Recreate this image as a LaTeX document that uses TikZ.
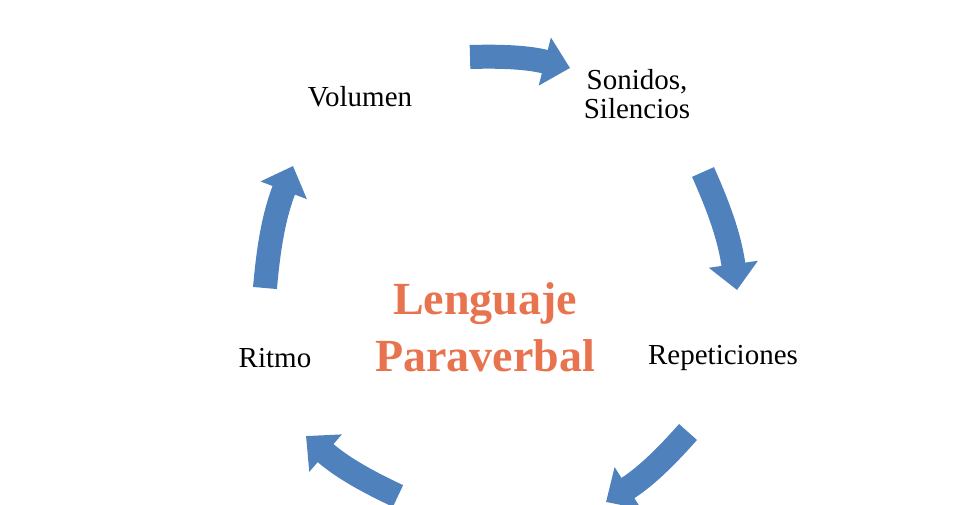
\documentclass[tikz,border=0pt]{standalone}
\usepackage{fontspec}
\setmainfont{Liberation Serif}
\usetikzlibrary{arrows.meta}
\definecolor{ablue}{HTML}{4F81BD}
\definecolor{aorange}{HTML}{E8734F}
\begin{document}
\begin{tikzpicture}[x=1pt,y=-1pt,
  lbl/.style={font=\fontsize{29}{29}\selectfont, align=center},
  cyc/.style={draw=ablue, line width=24pt, -{Triangle[width=48pt,length=26pt]}}]
\useasboundingbox (0,0) rectangle (960,504);
\node[lbl] (vol) at (360,97) {Volumen};
\node[lbl] (son) at (637,94) {Sonidos,\\Silencios};
\node[lbl] (rep) at (723,358) {Repeticiones};
\node[lbl] (rit) at (275,358) {Ritmo};
\node[font=\bfseries\fontsize{46}{57}\selectfont, text=aorange, align=center] (ctr) at (485,327) {Lenguaje\\Paraverbal};
\coordinate (a1s) at (470,57); \coordinate (a1e) at (570,68);
\coordinate (a2s) at (703,172); \coordinate (a2e) at (737,290);
\coordinate (a3s) at (688,432); \coordinate (a3e) at (606,502);
\coordinate (a4s) at (398,496); \coordinate (a4e) at (306,436);
\coordinate (a5s) at (265,288); \coordinate (a5e) at (293,166);
\draw[cyc] (a1s) to[bend left=8] (a1e);
\draw[cyc] (a2s) to[bend left=8] (a2e);
\draw[cyc] (a3s) to[bend left=8] (a3e);
\draw[cyc] (a4s) to[bend left=8] (a4e);
\draw[cyc] (a5s) to[bend left=8] (a5e);
\end{tikzpicture}
\end{document}
